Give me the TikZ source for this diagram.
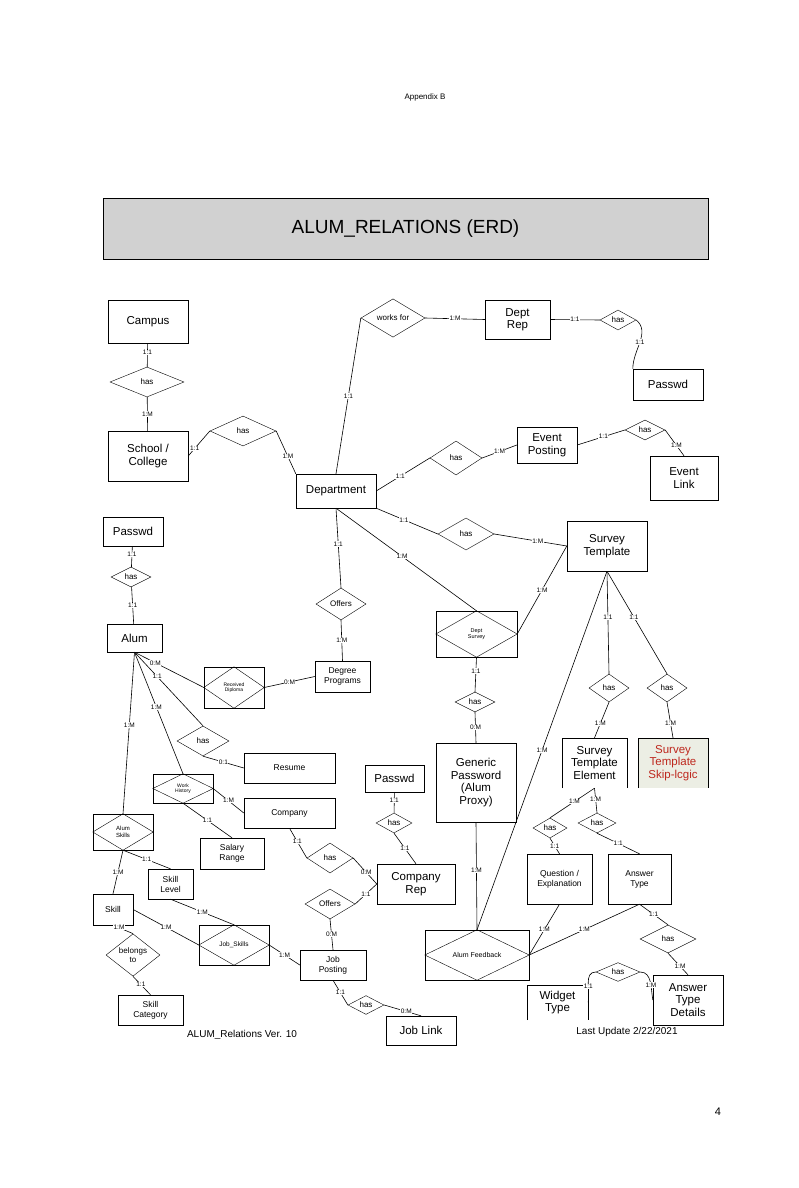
\documentclass[tikz,border=0pt]{standalone}
\usepackage{fontspec}
\setmainfont{Liberation Sans}
\usetikzlibrary{shapes.geometric}
\definecolor{skipfill}{RGB}{236,238,228}
\definecolor{skiptext}{RGB}{190,40,30}
\begin{document}
\begin{tikzpicture}[x=1pt,y=-1pt,
  ent/.style={draw,rectangle,inner sep=0pt,align=center,font=\fontsize{11.5}{12.5}\selectfont},
  sent/.style={ent,font=\fontsize{8.5}{10}\selectfont},
  rel/.style={draw,diamond,inner sep=0pt,font=\fontsize{8}{8.5}\selectfont,align=center},
  crd/.style={fill=white,inner sep=0.5pt,font=\fontsize{6.5}{6.5}\selectfont},
  ln/.style={draw,line width=0.6pt}]
\useasboundingbox (0,0) rectangle (799,1188);
\newcommand{\ebox}[6][ent]{\node[#1,minimum width={#4-#2},minimum height={#5-#3}] (#6) at ({(#2+#4)/2},{(#3+#5)/2})}
\newcommand{\rdia}[5]{\node[rel,minimum width=#4,minimum height=#5] (#1) at (#2,#3)}

\node[font=\fontsize{8}{9}\selectfont] (appx) at (425,97) {Appendix B};
\node[draw,fill=black!18,minimum width=605,minimum height=61,font=\fontsize{19}{20}\selectfont] (title) at (405.5,228.5) {ALUM\_RELATIONS (ERD)};

% entities
\ebox{108}{300}{188}{343}{campus} {Campus};
\ebox{108}{431}{188}{481}{school} {School /\\College};
\ebox{296}{474}{376}{508}{dept} {Department};
\ebox{485}{300}{550}{339}{deptrep} {Dept\\Rep};
\ebox{633}{369}{703}{400}{pw1} {Passwd};
\ebox{517}{427}{577}{463}{event} {Event\\Posting};
\ebox{650}{456}{718}{500}{elink} {Event\\Link};
\ebox{567}{521}{647}{571}{survey} {Survey\\Template};
\ebox{103}{517}{163}{546}{pw2} {Passwd};
\ebox{107}{624}{162}{652}{alum} {Alum};
\ebox[sent]{315}{661}{370}{692}{degree} {Degree\\Programs};
\ebox{436}{743}{516}{822}{generic} {Generic\\Password\\(Alum\\Proxy)};
\ebox[ent,draw=none]{562}{738}{627}{788}{ste} {Survey\\Template\\Element};
\ebox[ent,draw=none,fill=skipfill,text=skiptext]{638}{738}{708}{788}{skip} {Survey\\Template\\Skip-lcgic};
\ebox[sent]{244}{753}{335}{783}{resume} {Resume};
\ebox[sent]{244}{798}{335}{828}{company} {Company};
\ebox{365}{765}{424}{792}{pw3} {Passwd};
\ebox[sent]{200}{838}{264}{869}{salary} {Salary\\Range};
\ebox{377}{864}{455}{904}{comprep} {Company\\Rep};
\ebox[sent]{148}{869}{193}{899}{skilllev} {Skill\\Level};
\ebox[sent]{93}{894}{133}{925}{skill} {Skill};
\ebox[sent]{300}{950}{366}{980}{jobpost} {Job\\Posting};
\ebox[sent]{118}{995}{183}{1025}{skillcat} {Skill\\Category};
\ebox{386}{1016}{456}{1045}{joblink} {Job Link};
\ebox[sent]{527}{854}{592}{904}{quest} {Question /\\Explanation};
\ebox[sent]{608}{854}{671}{904}{anstype} {Answer\\Type};
\ebox[ent,draw=none]{527}{985}{588}{1020}{widget} {Widget\\Type};
\ebox{653}{975}{723}{1025}{atd} {Answer\\Type\\Details};
\draw (ste.south west) |- (ste.north east) -- (ste.south east);
\draw (skip.south west) |- (skip.north east) -- (skip.south east);
\draw (widget.south west) |- (widget.north east) -- (widget.south east);

% associative entities (box with diamond)
\ebox[sent,font=\fontsize{5.5}{6}\selectfont]{436}{611}{517}{657}{dsurvey} {Dept\\Survey};
\ebox[sent,font=\fontsize{5}{5.5}\selectfont]{204}{667}{264}{708}{rdip} {Received\\Diploma};
\ebox[sent,font=\fontsize{5}{5.5}\selectfont]{153}{774}{213}{803}{work} {Work\\History};
\ebox[sent,font=\fontsize{6}{6.5}\selectfont]{93}{814}{153}{850}{askills} {Alum\\Skills};
\ebox[sent,font=\fontsize{6.5}{7}\selectfont]{199}{925}{269}{965}{jskills} {Job\_Skills};
\ebox[sent,font=\fontsize{7}{7}\selectfont]{425}{930}{529}{980}{feedback} {Alum Feedback};
\foreach \n in {dsurvey,rdip,work,askills,jskills,feedback}
  \draw (\n.west) -- (\n.north) -- (\n.east) -- (\n.south) -- cycle;

% relationships
\rdia{h1}{147}{382}{74}{30} {has};
\rdia{hsd}{243}{431}{66}{30} {has};
\rdia{works}{393}{318}{64}{36} {works for};
\rdia{hrep}{618}{320}{36}{20} {has};
\rdia{hev}{456}{458}{52}{34} {has};
\rdia{hlink}{645}{430}{40}{20} {has};
\rdia{hsur}{466}{534}{56}{32} {has};
\rdia{hpw2}{131}{577}{40}{20} {has};
\rdia{offers1}{341}{604}{50}{32} {Offers};
\rdia{hgen}{475}{702}{40}{20} {has};
\rdia{hste}{609}{688}{40}{28} {has};
\rdia{hskip}{667}{688}{40}{28} {has};
\rdia{hres}{203}{741}{52}{30} {has};
\rdia{hpw3}{394}{823}{36}{20} {has};
\rdia{hcomp}{330}{858}{46}{30} {has};
\rdia{offers2}{330}{904}{50}{30} {Offers};
\rdia{belongs}{133}{955}{54}{36} {belongs\\to};
\rdia{hjl}{366}{1005}{36}{18} {has};
\rdia{hq}{550}{828}{34}{20} {has};
\rdia{ha}{597}{823}{38}{20} {has};
\rdia{hatd}{668}{939}{56}{28} {has};
\rdia{hw}{618}{972}{44}{18} {has};

% connectors
\draw[ln] (campus) -- node[crd,pos=.4]{1:1} (h1);
\draw[ln] (h1) -- node[crd]{1:M} (school);
\draw[ln] (school.east) -- node[crd,pos=.3]{1:1} (hsd.west);
\draw[ln] (hsd.east) -- node[crd,pos=.6]{1:M} (dept.north west);
\draw[ln] (dept.north) -- node[crd,pos=.5]{1:1} (works.west);
\draw[ln] (works.east) -- node[crd,pos=.5]{1:M} (deptrep.west);
\draw[ln] (deptrep.east) -- node[crd]{1:1} (hrep.west);
\draw[ln] (hrep.east) to[out=-40,in=90] node[crd,pos=.5]{1:1} (pw1.north west);
\draw[ln] (dept.east) -- node[crd,pos=.45]{1:1} (hev.west);
\draw[ln] (hev.east) -- node[crd,pos=.5]{1:M} (event.west);
\draw[ln] (event.east) -- node[crd,pos=.55]{1:1} (hlink.west);
\draw[ln] (hlink.east) -- node[crd,pos=.6]{1:M} (elink.north);
\draw[ln] (dept.south east) -- node[crd,pos=.45]{1:1} (hsur.west);
\draw[ln] (hsur.east) -- node[crd,pos=.6]{1:M} (survey.west);
\draw[ln] (dept.south) -- node[crd,pos=.45]{1:1} (offers1.north);
\draw[ln] (offers1.south) -- node[crd,pos=.5]{1:M} (degree.north);
\draw[ln] (dept.south) -- node[crd,pos=.47]{1:M} (dsurvey.north);
\draw[ln] (survey.west) -- node[crd,pos=.5]{1:M} (dsurvey.east);
\draw[ln] (dsurvey.south) -- node[crd,pos=.4]{1:1} (hgen.north);
\draw[ln] (hgen.south) -- node[crd,pos=.5]{0:M} (generic.north);
\draw[ln] (survey.south) -- node[crd,pos=.45]{1:1} (hste.north);
\draw[ln] (hste.south) -- node[crd,pos=.6]{1:M} (ste.north);
\draw[ln] (survey.south) -- node[crd,pos=.45]{1:1} (hskip.north);
\draw[ln] (hskip.south) -- node[crd,pos=.6]{1:M} (skip.north);
\draw[ln] (survey.south) -- node[crd,pos=.5]{1:M} (feedback.north);
\draw[ln] (pw2) -- node[crd,pos=.4]{1:1} (hpw2);
\draw[ln] (hpw2) -- node[crd,pos=.5]{1:1} (alum);
\draw[ln] (alum.south) -- node[crd,pos=.3]{0:M} (rdip.west);
\draw[ln] (rdip.east) -- node[crd,pos=.5]{0:M} (degree.west);
\draw[ln] (alum.south) -- node[crd,pos=.33]{1:1} (hres.north);
\draw[ln] (hres.south) -- node[crd,pos=.5]{0:1} (resume.west);
\draw[ln] (alum.south) -- node[crd,pos=.45]{1:M} (work.north);
\draw[ln] (work.east) -- node[crd,pos=.5]{1:M} (company.west);
\draw[ln] (work.south) -- node[crd,pos=.5]{1:1} (salary.north);
\draw[ln] (alum.south) -- node[crd,pos=.45]{1:M} (askills.north);
\draw[ln] (askills.south) -- node[crd,pos=.5]{1:M} (skill.north);
\draw[ln] (askills.south) -- node[crd,pos=.5]{1:1} (skilllev.north);
\draw[ln] (skill.east) -- node[crd,pos=.5]{1:M} (jskills.west);
\draw[ln] (skilllev.south) -- node[crd,pos=.5]{1:M} (jskills.north);
\draw[ln] (jskills.east) -- node[crd,pos=.5]{1:M} (jobpost.west);
\draw[ln] (skill.south) -- node[crd,pos=.3]{1:M} (belongs.north);
\draw[ln] (belongs.south) -- node[crd,pos=.45]{1:1} (skillcat.north);
\draw[ln] (company.south) -- node[crd,pos=.45]{1:1} (hcomp.west);
\draw[ln] (hcomp.east) -- node[crd,pos=.55]{0:M} (comprep.west);
\draw[ln] (comprep.west) -- node[crd,pos=.5]{1:1} (offers2.east);
\draw[ln] (offers2.south) -- node[crd,pos=.5]{0:M} (jobpost.north);
\draw[ln] (pw3) -- node[crd,pos=.4]{1:1} (hpw3);
\draw[ln] (hpw3.south) -- node[crd,pos=.5]{1:1} (comprep.north);
\draw[ln] (jobpost.south) -- node[crd,pos=.5]{1:1} (hjl.west);
\draw[ln] (hjl.east) -- node[crd,pos=.6]{0:M} (joblink.north);
\draw[ln] (generic.south) -- node[crd,pos=.45]{1:M} (feedback.north);
\draw[ln] (ste.south) -- node[crd,pos=.45]{1:M} (hq.north);
\draw[ln] (ste.south) -- node[crd,pos=.45]{1:M} (ha.north);
\draw[ln] (hq.south) -- node[crd,pos=.5]{1:1} (quest.north);
\draw[ln] (ha.south) -- node[crd,pos=.5]{1:1} (anstype.north);
\draw[ln] (quest.south) -- node[crd,pos=.5]{1:M} (feedback.east);
\draw[ln] (anstype.south) -- node[crd,pos=.5]{1:M} (feedback.east);
\draw[ln] (anstype.south) -- node[crd,pos=.5]{1:1} (hatd.north);
\draw[ln] (hatd.south) -- node[crd,pos=.6]{1:M} (atd.north);
\draw[ln] (widget.east) to[out=80,in=180] node[crd,pos=.4]{1:1} (hw.west);
\draw[ln] (hw.east) to[out=0,in=100] node[crd,pos=.6]{1:M} (atd.west);

% footers
\node[font=\fontsize{10}{11}\selectfont] (ver) at (242,1035) {ALUM\_Relations Ver. 10};
\node[font=\fontsize{10}{11}\selectfont] (upd) at (627,1032) {Last Update 2/22/2021};
\node[font=\fontsize{11}{12}\selectfont] (pg) at (718,1112) {4};
\end{tikzpicture}
\end{document}
